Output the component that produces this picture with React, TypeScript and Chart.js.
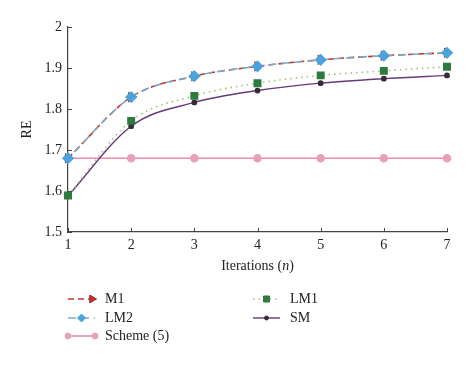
import React, { useEffect, useRef } from "react";
import { Chart, registerables } from "chart.js";

Chart.register(...registerables);

const iterations = ["1", "2", "3", "4", "5", "6", "7"];
const m1 = [1.68, 1.829, 1.88, 1.904, 1.92, 1.93, 1.937];
const lm2 = [1.68, 1.829, 1.88, 1.904, 1.92, 1.93, 1.937];
const scheme5 = [1.68, 1.68, 1.68, 1.68, 1.68, 1.68, 1.68];
const lm1 = [1.589, 1.771, 1.832, 1.863, 1.882, 1.893, 1.903];
const sm = [1.588, 1.758, 1.816, 1.845, 1.863, 1.874, 1.882];
const yTicks = [1.5, 1.6, 1.7, 1.8, 1.9, 2];

const FONT = "'Liberation Serif', 'Times New Roman', serif";
const AXIS = "#444444";

function drawPt(ctx: any, opts: any, x: number, y: number) {
  const r = opts.radius;
  const rot = ((opts.rotation || 0) * Math.PI) / 180;
  ctx.beginPath();
  if (opts.pointStyle === "rectRot") {
    ctx.moveTo(x, y - r);
    ctx.lineTo(x + r, y);
    ctx.lineTo(x, y + r);
    ctx.lineTo(x - r, y);
    ctx.closePath();
  } else if (opts.pointStyle === "rect") {
    ctx.rect(x - r * 0.75, y - r * 0.75, r * 1.5, r * 1.5);
  } else if (opts.pointStyle === "triangle") {
    for (let k = 0; k < 3; k++) {
      const a = rot + (k * 2 * Math.PI) / 3;
      const px = x + Math.sin(a) * r;
      const py = y - Math.cos(a) * r;
      if (k === 0) ctx.moveTo(px, py);
      else ctx.lineTo(px, py);
    }
    ctx.closePath();
  } else {
    ctx.arc(x, y, r, 0, Math.PI * 2);
  }
  ctx.fill();
  ctx.stroke();
}

const extrasPlugin = {
  id: "extras",
  afterDraw(chart: any) {
    const ctx = chart.ctx;
    const xs = chart.scales.x;
    const ys = chart.scales.y;
    const area = chart.chartArea;
    ctx.save();
    ctx.strokeStyle = AXIS;
    ctx.lineWidth = 1;
    ctx.setLineDash([]);
    ys.ticks.forEach((t: any) => {
      const y = Math.round(ys.getPixelForValue(t.value)) + 0.5;
      ctx.beginPath();
      ctx.moveTo(area.left, y);
      ctx.lineTo(area.left + 4, y);
      ctx.stroke();
    });
    iterations.forEach((_, i) => {
      const x = Math.round(xs.getPixelForValue(i)) + 0.5;
      ctx.beginPath();
      ctx.moveTo(x, area.bottom);
      ctx.lineTo(x, area.bottom - 4);
      ctx.stroke();
    });
    const parts = [
      { t: "Iterations (", f: `14px ${FONT}` },
      { t: "n", f: `italic 14px ${FONT}` },
      { t: ")", f: `14px ${FONT}` },
    ];
    let total = 0;
    parts.forEach((p) => {
      ctx.font = p.f;
      total += ctx.measureText(p.t).width;
    });
    let cx = (area.left + area.right) / 2 - total / 2;
    ctx.fillStyle = "#222";
    ctx.textBaseline = "middle";
    ctx.textAlign = "left";
    parts.forEach((p) => {
      ctx.font = p.f;
      ctx.fillText(p.t, cx, 266);
      cx += ctx.measureText(p.t).width;
    });
    const cols = [
      { x: 68, idx: [0, 1, 2] },
      { x: 253, idx: [3, 4] },
    ];
    const rowsY = [299, 318, 336];
    const legendR = [4.5, 4, 3, 4, 2];
    cols.forEach((c) => {
      c.idx.forEach((di, r) => {
        const ds = chart.data.datasets[di];
        const y = rowsY[r];
        ctx.save();
        ctx.strokeStyle = ds.borderColor;
        ctx.lineWidth = ds.borderWidth;
        ctx.setLineDash(ds.borderDash || []);
        ctx.beginPath();
        ctx.moveTo(c.x, y);
        ctx.lineTo(c.x + 27, y);
        ctx.stroke();
        ctx.setLineDash([]);
        const opts = {
          pointStyle: ds.pointStyle,
          radius: legendR[di],
          rotation: ds.pointRotation || 0,
        };
        ctx.lineWidth = 1;
        ctx.fillStyle = ds.pointBackgroundColor;
        ctx.strokeStyle = ds.pointBorderColor;
        const px = di === 2 ? [c.x, c.x + 27] : di === 0 ? [c.x + 24] : [c.x + 13.5];
        px.forEach((p) => drawPt(ctx, opts, p, y));
        ctx.restore();
        ctx.fillStyle = "#222";
        ctx.font = `14px ${FONT}`;
        ctx.textAlign = "left";
        ctx.textBaseline = "middle";
        ctx.fillText(ds.label, c.x + 37, y);
      });
    });
    ctx.restore();
  },
};

export default function App() {
  const ref = useRef<HTMLCanvasElement>(null);
  useEffect(() => {
    document.body.style.margin = "0";
    const chart = new Chart(ref.current as HTMLCanvasElement, {
      type: "line",
      data: {
        labels: iterations,
        datasets: [
          {
            label: "M1",
            data: m1,
            borderColor: "#c8332b",
            borderWidth: 1.6,
            borderDash: [6, 4],
            pointStyle: "triangle",
            pointRotation: 90,
            pointRadius: 4.5,
            pointBackgroundColor: "#c8332b",
            pointBorderColor: "#a02020",
            cubicInterpolationMode: "monotone",
            order: 2,
          } as any,
          {
            label: "LM2",
            data: lm2,
            borderColor: "#7fa9c4",
            borderWidth: 1.6,
            borderDash: [8, 5],
            borderDashOffset: 4,
            pointStyle: "rectRot",
            pointRadius: 5,
            pointBackgroundColor: "#4aa3dc",
            pointBorderColor: "#4aa3dc",
            cubicInterpolationMode: "monotone",
            order: 1,
          },
          {
            label: "Scheme (5)",
            data: scheme5,
            borderColor: "#e88db0",
            borderWidth: 1.6,
            pointStyle: "circle",
            pointRadius: 3.5,
            pointBackgroundColor: "#e8a0bd",
            pointBorderColor: "#e8a0bd",
            tension: 0,
            order: 5,
          },
          {
            label: "LM1",
            data: lm1,
            borderColor: "#9cc27a",
            borderWidth: 1.6,
            borderDash: [1.5, 4],
            pointStyle: "rect",
            pointRadius: 4.5,
            pointBackgroundColor: "#2e7a3f",
            pointBorderColor: "#2e7a3f",
            cubicInterpolationMode: "monotone",
            order: 3,
          },
          {
            label: "SM",
            data: sm,
            borderColor: "#6a3a78",
            borderWidth: 1.4,
            pointStyle: "circle",
            pointRadius: 2.2,
            pointBackgroundColor: "#3a2a3a",
            pointBorderColor: "#3a2a3a",
            cubicInterpolationMode: "monotone",
            order: 4,
          },
        ],
      },
      options: {
        animation: false,
        responsive: false,
        maintainAspectRatio: false,
        layout: { padding: { left: 0, top: 27, right: 27, bottom: 83 } },
        plugins: {
          legend: { display: false },
          tooltip: { enabled: false },
        },
        scales: {
          x: {
            type: "category",
            offset: false,
            grid: { display: false, drawTicks: false },
            border: { color: AXIS, width: 1.2 },
            ticks: {
              color: "#222",
              font: { family: FONT, size: 14 },
              padding: 5,
              maxRotation: 0,
            },
            afterFit: (s: any) => {
              s.height = 50;
            },
          },
          y: {
            min: 1.5,
            max: 2,
            grid: { display: false, drawTicks: false },
            border: { color: AXIS, width: 1.2 },
            afterBuildTicks: (s: any) => {
              s.ticks = yTicks.map((v) => ({ value: v }));
            },
            ticks: {
              color: "#222",
              font: { family: FONT, size: 14 },
              padding: 6,
              callback: (v: any) => String(Math.round(Number(v) * 10) / 10),
            },
            title: {
              display: true,
              text: "RE",
              color: "#222",
              font: { family: FONT, size: 14 },
              padding: { top: 19, bottom: 0 },
            },
            afterFit: (s: any) => {
              s.width = 68;
            },
          },
        },
      },
      plugins: [extrasPlugin],
    });
    return () => chart.destroy();
  }, []);
  return (
    <div style={{ position: "fixed", left: 0, top: 0, width: 474, height: 365, background: "#fff" }}>
      <canvas ref={ref} width={474} height={365} style={{ display: "block" }} />
    </div>
  );
}
